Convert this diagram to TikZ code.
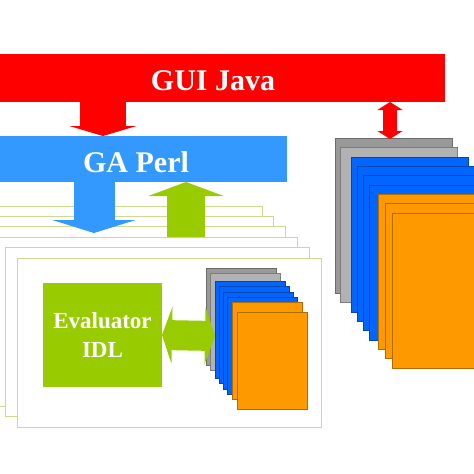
\documentclass[tikz,border=0pt]{standalone}
\usepackage{fontspec}
\setmainfont{Liberation Serif}
\usetikzlibrary{arrows.meta}

\definecolor{guired}{RGB}{255,0,0}
\definecolor{perlblue}{RGB}{51,153,255}
\definecolor{idlgreen}{RGB}{153,204,0}
\definecolor{panelline}{RGB}{204,219,140}
\definecolor{darkgray}{RGB}{153,153,153}
\definecolor{lightgray}{RGB}{178,178,178}
\definecolor{sheetblue}{RGB}{0,102,255}
\definecolor{sheetorange}{RGB}{255,153,0}

\begin{document}
\begin{tikzpicture}
  [x=1pt, y=-1pt,
   colorbar/.style={rectangle, fill=#1, inner sep=0pt, outer sep=0pt},
   title/.style={text=white, anchor=base, font=\bfseries\fontsize{30}{30}\selectfont},
   panel/.style={draw=panelline, fill=white, line width=0.8pt},
   sheetbox/.style={fill=#1, draw=#1!70!black, line width=0.4pt},
   evalbox/.style={rectangle, fill=idlgreen, inner sep=0pt, outer sep=0pt,
                   minimum width=119pt, minimum height=104pt, text=white, align=center,
                   font=\bfseries\fontsize{23}{29}\selectfont},
   blockarrow/.style={draw=#1, line width=46pt, -{Triangle[width=67pt,length=10pt]}}]
  \clip (0,0) rectangle (474,474);

  % stacked panels
  \foreach \k in {0,...,5}
    \draw[panel] ({-42+11.8*\k},{206+10.4*\k}) rectangle ++(304,169);

  \node (eval) [evalbox] at (102.5,335) {Evaluator\\IDL};

  % small stack of sheets
  \foreach \x/\y/\c in {206/268/darkgray, 210/273/lightgray, 215/281/sheetblue,
      219/286/sheetblue, 223/292/sheetblue, 227/297/sheetblue,
      232/302/sheetorange, 237/312/sheetorange}
    \draw[sheetbox=\c] (\x,\y) rectangle ++(70,97);
  \coordinate (small) at (215,336);

  % big stack of sheets
  \foreach \x/\y/\c in {335/138/darkgray, 340/147/lightgray, 351/157/sheetblue,
      357/166/sheetblue, 363/175/sheetblue, 369/185/sheetblue,
      378/194/sheetorange, 385/203/sheetorange, 392/213/sheetorange}
    \draw[sheetbox=\c] (\x,\y) rectangle ++(117,155);
  \coordinate (big) at (390,139);

  \draw[draw=idlgreen, line width=30pt,
        {Triangle[width=57pt,length=10pt]}-{Triangle[width=57pt,length=10pt]}]
    (eval.east) -- (small);

  \node (gui) [colorbar=guired, minimum width=445pt, minimum height=48pt] at (222.5,78) {};
  \node (guitext) [title] at (213,90) {GUI Java};
  \node (perl) [colorbar=perlblue, minimum width=287pt, minimum height=46pt] at (143.5,159) {};
  \node (perltext) [title] at (136,172) {GA Perl};
  \coordinate (pool) at (94,233);
  \coordinate (back) at (186,237);

  \draw[blockarrow=guired] (gui.south -| 103,0) -- (perl.north -| 103,0);
  \draw[draw=guired, line width=14pt,
        {Triangle[width=25pt,length=8pt]}-{Triangle[width=25pt,length=8pt]}]
    (gui.south -| big) -- (big);
  \draw[draw=perlblue, line width=41pt, -{Triangle[width=83pt,length=13pt]}]
    (perl.south -| pool) -- (pool);
  \draw[draw=idlgreen, line width=38pt, -{Triangle[width=75pt,length=14pt]}]
    (back) -- (perl.south -| back);
\end{tikzpicture}
\end{document}
